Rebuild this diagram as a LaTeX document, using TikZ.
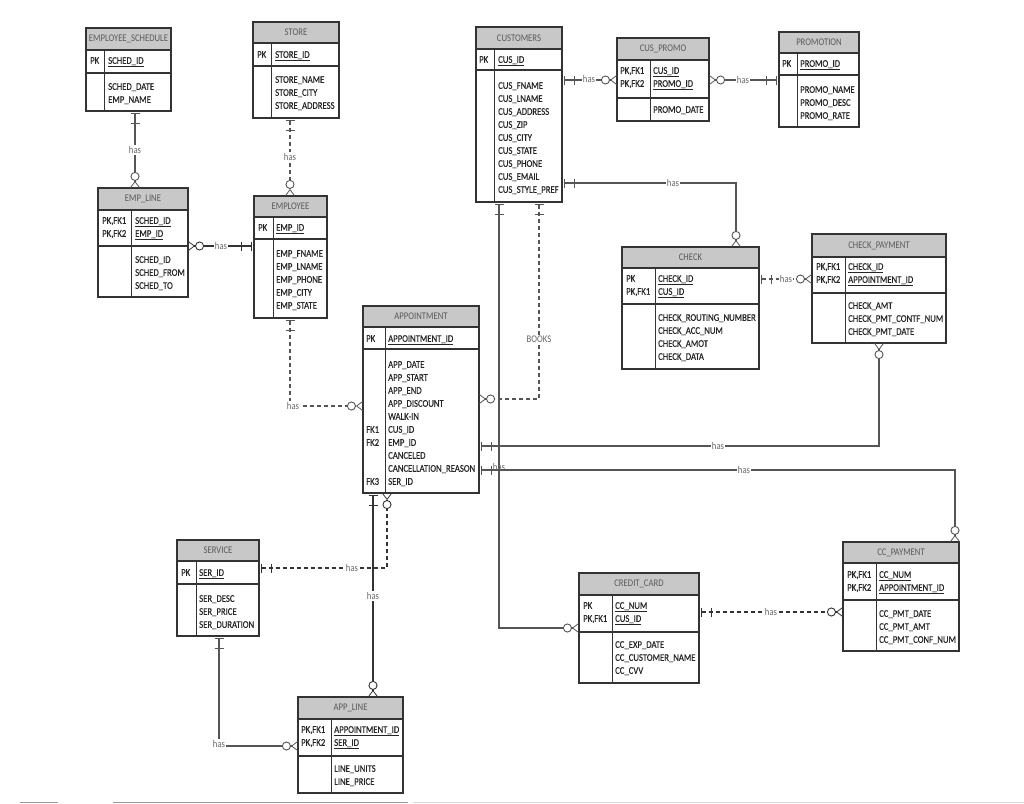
\documentclass[tikz,border=0pt]{standalone}
\usepackage{fontspec}
\setmainfont[FakeStretch=0.85]{Carlito}
\newfontfamily\attrfont[FakeStretch=0.85,FakeBold=0.45]{Carlito}
\usetikzlibrary{arrows.meta}
\definecolor{hdrgray}{HTML}{C8C8C8}
\definecolor{linegray}{HTML}{555555}
\definecolor{boxline}{HTML}{333333}
\tikzset{
	attr/.style={anchor=north west,inner sep=0pt,yshift=-2pt,align=left,font=\attrfont\fontsize{10.2}{13}\selectfont,text=black!85},
	title/.style={inner sep=0pt,font=\fontsize{10.2}{13}\selectfont,text=black!65},
	lbl/.style={fill=white,inner sep=1pt,font=\fontsize{10.2}{12}\selectfont,text=black!60},
	rel/.style={line width=1.1pt,draw=linegray,{Bar[width=9pt,line width=.8pt,sep=2pt]Bar[width=9pt,line width=.8pt,sep=9pt]}-{Circle[open,fill=white,length=9pt,width=9pt,line width=.9pt]Straight Barb[reversed,length=6pt,width=9pt,line width=.8pt]}},
	dashrel/.style={rel,dash pattern=on 4pt off 3pt},
}
% entity: name, left, divider, right, top, header bottom, key bottom, bottom, title
\newcommand{\erbox}[9]{
	\fill[hdrgray] (#2,#5) rectangle (#4,#6);
	\draw[line width=1.1pt,boxline] (#2,#6) -- (#4,#6);
	\draw[line width=1.1pt,boxline] (#2,#7) -- (#4,#7);
	\draw[line width=1pt,boxline] (#3,#6) -- (#3,#8);
	\node[draw=boxline,line width=1.1pt,inner sep=0pt,outer sep=0pt,anchor=north west,minimum width={(#4-#2)*1pt},minimum height={(#8-#5)*1pt}] (#1) at (#2,#5) {};
	\node[title] (#1 title) at ({(#2+#4)/2},{(#5+#6)/2}) {#9};
}
\begin{document}
\begin{tikzpicture}[x=1pt,y=-1pt]
	\useasboundingbox (0,0) rectangle (1024,803);

	\erbox{empsched}{86}{104}{171}{28}{50}{73}{111}{EMPLOYEE\_SCHEDULE}
	\node[attr] (empsched pk) at (90,55) {PK};
	\node[attr] (empsched key) at (108,55) {\underline{SCHED\_ID}};
	\node[attr] (empsched cols) at (108,81) {SCHED\_DATE\\EMP\_NAME};

	\erbox{store}{253}{271}{339}{22}{43}{66}{118}{STORE}
	\node[attr] (store pk) at (257,49) {PK};
	\node[attr] (store key) at (275,49) {\underline{STORE\_ID}};
	\node[attr] (store cols) at (275,74) {STORE\_NAME\\STORE\_CITY\\STORE\_ADDRESS};

	\erbox{empline}{98}{131}{188}{188}{210}{246}{297}{EMP\_LINE}
	\node[attr] (empline pk) at (102,215) {PK,FK1\\PK,FK2};
	\node[attr] (empline key) at (135,215) {\underline{SCHED\_ID}\\\underline{EMP\_ID}};
	\node[attr] (empline cols) at (135,254) {SCHED\_ID\\SCHED\_FROM\\SCHED\_TO};

	\erbox{employee}{254}{273}{327}{196}{217}{239}{318}{EMPLOYEE}
	\node[attr] (employee pk) at (258,222) {PK};
	\node[attr] (employee key) at (276,222) {\underline{EMP\_ID}};
	\node[attr] (employee cols) at (276,248) {EMP\_FNAME\\EMP\_LNAME\\EMP\_PHONE\\EMP\_CITY\\EMP\_STATE};

	\erbox{customers}{476}{494}{562}{27}{49}{70}{202}{CUSTOMERS}
	\node[attr] (customers pk) at (479,54) {PK};
	\node[attr] (customers key) at (498,54) {\underline{CUS\_ID}};
	\node[attr] (customers cols) at (498,80) {CUS\_FNAME\\CUS\_LNAME\\CUS\_ADDRESS\\CUS\_ZIP\\CUS\_CITY\\CUS\_STATE\\CUS\_PHONE\\CUS\_EMAIL\\CUS\_STYLE\_PREF};

	\erbox{cuspromo}{617}{650}{709}{38}{60}{98}{121}{CUS\_PROMO}
	\node[attr] (cuspromo pk) at (620,65) {PK,FK1\\PK,FK2};
	\node[attr] (cuspromo key) at (653,65) {\underline{CUS\_ID}\\\underline{PROMO\_ID}};
	\node[attr] (cuspromo cols) at (653,104) {PROMO\_DATE};

	\erbox{promotion}{779}{797}{859}{32}{53}{75}{127}{PROMOTION}
	\node[attr] (promotion pk) at (782,58) {PK};
	\node[attr] (promotion key) at (800,58) {\underline{PROMO\_ID}};
	\node[attr] (promotion cols) at (800,84) {PROMO\_NAME\\PROMO\_DESC\\PROMO\_RATE};

	\erbox{check}{622}{655}{759}{247}{268}{304}{369}{CHECK}
	\node[attr] (check pk) at (626,273) {PK\\PK,FK1};
	\node[attr] (check key) at (658,273) {\underline{CHECK\_ID}\\\underline{CUS\_ID}};
	\node[attr] (check cols) at (658,312) {CHECK\_ROUTING\_NUMBER\\CHECK\_ACC\_NUM\\CHECK\_AMOT\\CHECK\_DATA};

	\erbox{checkpay}{812}{845}{946}{234}{257}{293}{343}{CHECK\_PAYMENT}
	\node[attr] (checkpay pk) at (816,261) {PK,FK1\\PK,FK2};
	\node[attr] (checkpay key) at (848,261) {\underline{CHECK\_ID}\\\underline{APPOINTMENT\_ID}};
	\node[attr] (checkpay cols) at (848,300) {CHECK\_AMT\\CHECK\_PMT\_CONTF\_NUM\\CHECK\_PMT\_DATE};

	\erbox{appt}{363}{385}{479}{306}{327}{349}{493}{APPOINTMENT}
	\node[attr] (appt pk) at (366,333) {PK};
	\node[attr] (appt key) at (388,333) {\underline{APPOINTMENT\_ID}};
	\node[attr] (appt fk) at (366,424) {FK1\\FK2\\\\\\FK3};
	\node[attr] (appt cols) at (388,359) {APP\_DATE\\APP\_START\\APP\_END\\APP\_DISCOUNT\\WALK-IN\\CUS\_ID\\EMP\_ID\\CANCELED\\CANCELLATION\_REASON\\SER\_ID};

	\erbox{service}{177}{196}{259}{540}{561}{584}{636}{SERVICE}
	\node[attr] (service pk) at (181,567) {PK};
	\node[attr] (service key) at (199,567) {\underline{SER\_ID}};
	\node[attr] (service cols) at (199,593) {SER\_DESC\\SER\_PRICE\\SER\_DURATION};

	\erbox{appline}{298}{331}{403}{697}{719}{756}{793}{APP\_LINE}
	\node[attr] (appline pk) at (301,724) {PK,FK1\\PK,FK2};
	\node[attr] (appline key) at (334,724) {\underline{APPOINTMENT\_ID}\\\underline{SER\_ID}};
	\node[attr] (appline cols) at (334,763) {LINE\_UNITS\\LINE\_PRICE};

	\erbox{card}{579}{612}{699}{573}{595}{632}{683}{CREDIT\_CARD}
	\node[attr] (card pk) at (583,600) {PK\\PK,FK1};
	\node[attr] (card key) at (615,600) {\underline{CC\_NUM}\\\underline{CUS\_ID}};
	\node[attr] (card cols) at (615,639) {CC\_EXP\_DATE\\CC\_CUSTOMER\_NAME\\CC\_CVV};

	\erbox{ccpay}{843}{876}{959}{542}{563}{600}{651}{CC\_PAYMENT}
	\node[attr] (ccpay pk) at (847,569) {PK,FK1\\PK,FK2};
	\node[attr] (ccpay key) at (879,569) {\underline{CC\_NUM}\\\underline{APPOINTMENT\_ID}};
	\node[attr] (ccpay cols) at (879,608) {CC\_PMT\_DATE\\CC\_PMT\_AMT\\CC\_PMT\_CONF\_NUM};

	% relationships run from the one side to the many side
	\draw[rel] (empsched.south -| 135,0) -- (empline.north -| 135,0);
	\node[lbl] (has a) at (135,150) {has};
	\draw[dashrel] (store.south -| 290,0) -- (employee.north -| 290,0);
	\node[lbl] (has b) at (290,157) {has};
	\draw[rel,draw=boxline] (employee.west |- 0,246) -- (empline.east |- 0,246);
	\node[lbl] (has c) at (221,246) {has};
	\draw[dashrel] (employee.south -| 290,0) -- (290,406) -- (appt.west |- 0,406);
	\node[lbl] (has d) at (293,406) {has};
	\draw[rel] (customers.east |- 0,80) -- (cuspromo.west |- 0,80);
	\node[lbl] (has e) at (589,79) {has};
	\draw[rel] (promotion.west |- 0,80) -- (cuspromo.east |- 0,80);
	\node[lbl] (has f) at (743,80) {has};
	\draw[rel] (customers.east |- 0,183) -- (736,183) -- (check.north -| 736,0);
	\node[lbl] (has g) at (673,183) {has};
	\draw[rel] (customers.south -| 499,0) -- (499,628) -- (card.west |- 0,628);
	\node[lbl,fill=none] (has h) at (499,467) {has};
	\draw[dashrel] (customers.south -| 539,0) -- (539,399) -- (appt.east |- 0,399);
	\node[lbl] (books) at (539,339) {BOOKS};
	\draw[dashrel] (check.east |- 0,279) -- (checkpay.west |- 0,279);
	\node[lbl] (has i) at (786,279) {has};
	\draw[rel] (appt.east |- 0,446) -- (879,446) -- (checkpay.south -| 879,0);
	\node[lbl] (has j) at (718,446) {has};
	\draw[rel] (appt.east |- 0,470) -- (955,470) -- (ccpay.north -| 955,0);
	\node[lbl] (has k) at (744,470) {has};
	\draw[dashrel,draw=boxline] (service.east |- 0,568) -- (387,568) -- (appt.south -| 387,0);
	\node[lbl] (has l) at (352,568) {has};
	\draw[rel,draw=boxline] (appt.south -| 373,0) -- (appline.north -| 373,0);
	\node[lbl] (has m) at (373,596) {has};
	\draw[rel] (service.south -| 219,0) -- (219,746) -- (appline.west |- 0,746);
	\node[lbl] (has n) at (219,744) {has};
	\draw[dashrel,draw=boxline] (card.east |- 0,612) -- (ccpay.west |- 0,612);
	\node[lbl] (has o) at (771,612) {has};

	% strip along the bottom edge
	\draw[line width=1pt,black!40] (20,802) -- (58,802);
	\draw[line width=1pt,black!40] (113,802) -- (408,802);
	\draw[line width=1pt,black!15] (413,802) -- (1024,802);
\end{tikzpicture}
\end{document}
